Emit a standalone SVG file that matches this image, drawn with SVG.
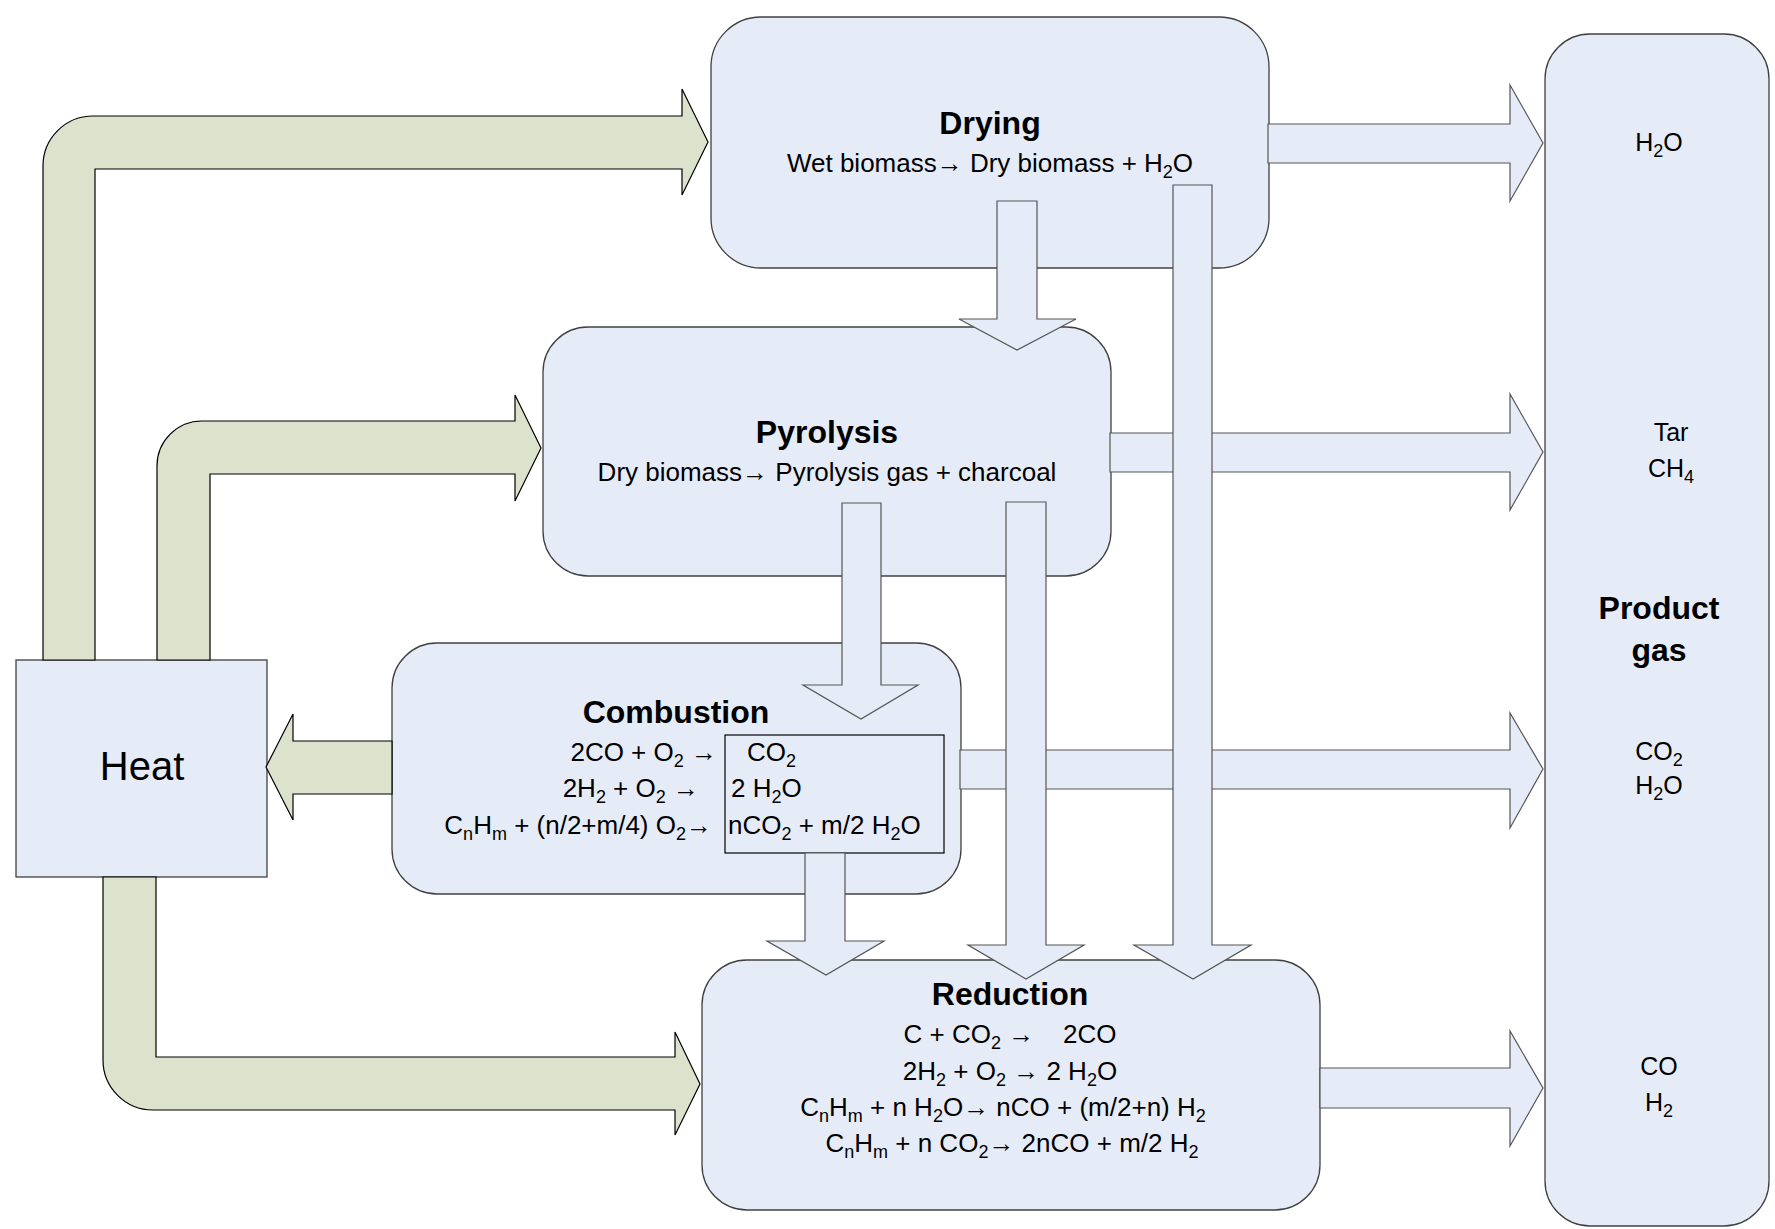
<svg xmlns="http://www.w3.org/2000/svg" width="1775" height="1229" viewBox="0 0 1775 1229">
<style>
text{font-family:"Liberation Sans",Arial,sans-serif;fill:#000}
.box{fill:#e6ecf7;stroke:#404040;stroke-width:1.3}
.g{fill:#dde2cd;stroke:#000;stroke-width:1.2}
.b{fill:#e6ecf7;stroke:#555;stroke-width:1.2}
.t{font-size:32px;font-weight:bold;text-anchor:middle}
.l{font-size:26px}
.c{text-anchor:middle}
.e{text-anchor:end}
.p{font-size:25px;text-anchor:middle}
.s{font-size:18px}
</style>
<rect width="1775" height="1229" fill="#fff"/>
<g id="drying"><rect class="box" x="711" y="17" width="558" height="251" rx="50"/>
<text class="t" x="990" y="134">Drying</text>
<text class="l c" x="990" y="172">Wet biomass→ Dry biomass + H<tspan class="s" dy="6">2</tspan><tspan dy="-6">O</tspan></text></g>
<g id="pyrolysis"><rect class="box" x="543" y="327" width="568" height="249" rx="45"/>
<text class="t" x="827" y="443">Pyrolysis</text>
<text class="l c" x="827" y="481">Dry biomass→ Pyrolysis gas + charcoal</text></g>
<g id="combustion"><rect class="box" x="392" y="643" width="569" height="251" rx="45"/>
<rect x="725" y="735" width="219" height="118" fill="none" stroke="#000" stroke-width="1.2"/>
<text class="t" x="676" y="723">Combustion</text>
<text class="l e" x="717" y="761">2CO + O<tspan class="s" dy="6">2</tspan><tspan dy="-6"> →</tspan></text>
<text class="l" x="747" y="761">CO<tspan class="s" dy="6">2</tspan></text>
<text class="l e" x="699" y="797">2H<tspan class="s" dy="6">2</tspan><tspan dy="-6"> + O</tspan><tspan class="s" dy="6">2</tspan><tspan dy="-6"> →</tspan></text>
<text class="l" x="731" y="797">2 H<tspan class="s" dy="6">2</tspan><tspan dy="-6">O</tspan></text>
<text class="l e" x="712" y="834">C<tspan class="s" dy="6">n</tspan><tspan dy="-6">H</tspan><tspan class="s" dy="6">m</tspan><tspan dy="-6"> + (n/2+m/4) O</tspan><tspan class="s" dy="6">2</tspan><tspan dy="-6">→</tspan></text>
<text class="l" x="728" y="834">nCO<tspan class="s" dy="6">2</tspan><tspan dy="-6"> + m/2 H</tspan><tspan class="s" dy="6">2</tspan><tspan dy="-6">O</tspan></text></g>
<g id="reduction"><rect class="box" x="702" y="960" width="618" height="250" rx="45"/>
<text class="t" x="1010" y="1005">Reduction</text>
<text class="l c" x="1010" y="1043" xml:space="preserve">C + CO<tspan class="s" dy="6">2</tspan><tspan dy="-6"> →    2CO</tspan></text>
<text class="l c" x="1010" y="1080">2H<tspan class="s" dy="6">2</tspan><tspan dy="-6"> + O</tspan><tspan class="s" dy="6">2</tspan><tspan dy="-6"> → 2 H</tspan><tspan class="s" dy="6">2</tspan><tspan dy="-6">O</tspan></text>
<text class="l c" x="1003" y="1116">C<tspan class="s" dy="6">n</tspan><tspan dy="-6">H</tspan><tspan class="s" dy="6">m</tspan><tspan dy="-6"> + n H</tspan><tspan class="s" dy="6">2</tspan><tspan dy="-6">O→ nCO + (m/2+n) H</tspan><tspan class="s" dy="6">2</tspan></text>
<text class="l c" x="1012" y="1152">C<tspan class="s" dy="6">n</tspan><tspan dy="-6">H</tspan><tspan class="s" dy="6">m</tspan><tspan dy="-6"> + n CO</tspan><tspan class="s" dy="6">2</tspan><tspan dy="-6">→ 2nCO + m/2 H</tspan><tspan class="s" dy="6">2</tspan></text></g>
<g id="product"><rect class="box" x="1545" y="34" width="224" height="1192" rx="45"/>
<text class="p" x="1659" y="151">H<tspan class="s" dy="6">2</tspan><tspan dy="-6">O</tspan></text>
<text class="p" x="1671" y="441">Tar</text>
<text class="p" x="1671" y="477">CH<tspan class="s" dy="6">4</tspan></text>
<text class="t" x="1659" y="619">Product</text>
<text class="t" x="1659" y="661">gas</text>
<text class="p" x="1659" y="760">CO<tspan class="s" dy="6">2</tspan></text>
<text class="p" x="1659" y="794">H<tspan class="s" dy="6">2</tspan><tspan dy="-6">O</tspan></text>
<text class="p" x="1659" y="1075">CO</text>
<text class="p" x="1659" y="1111">H<tspan class="s" dy="6">2</tspan></text></g>
<g id="heat"><rect class="box" x="16" y="660" width="251" height="217" stroke="#000"/>
<text x="142" y="780" font-size="40" text-anchor="middle">Heat</text></g>
<g id="connectors">
<path class="g" d="M43,660 V166 A50,50 0 0 1 93,116 H682 V89 L708,142 L682,195 V169 H95 V660 Z"/>
<path class="g" d="M157,660 V466 A45,45 0 0 1 202,421 H515 V395 L541,448 L515,501 V474 H210 V660 Z"/>
<path class="g" d="M103,877 V1060 A50,50 0 0 0 153,1110 H675 V1135 L700,1084 L675,1032 V1057 H156 V877 Z"/>
<path class="g" d="M392,741 H293 V714 L266,767 L293,820 V794 H392 Z"/>
<path class="b" d="M1268,124 H1510 V85 L1543,143 L1510,201 V163 H1268 Z"/>
<path class="b" d="M1110,433 H1510 V394 L1543,452 L1510,510 V472 H1110 Z"/>
<path class="b" d="M960,750 H1510 V713 L1543,769 L1510,828 V789 H960 Z"/>
<path class="b" d="M1320,1068 H1510 V1031 L1543,1088 L1510,1146 V1108 H1320 Z"/>
<path class="b" d="M997,201 H1037 V319 H1076 L1017,350 L959,319 H997 Z"/>
<path class="b" d="M842,503 H881 V685 H918 L861,719 L803,685 H842 Z"/>
<path class="b" d="M805,853 H845 V941 H884 L826,975 L767,941 H805 Z"/>
<path class="b" d="M1006,502 H1046 V945 H1084 L1026,979 L968,945 H1006 Z"/>
<path class="b" d="M1173,185 H1212 V945 H1251 L1193,979 L1134,945 H1173 Z"/>
</g>
</svg>
